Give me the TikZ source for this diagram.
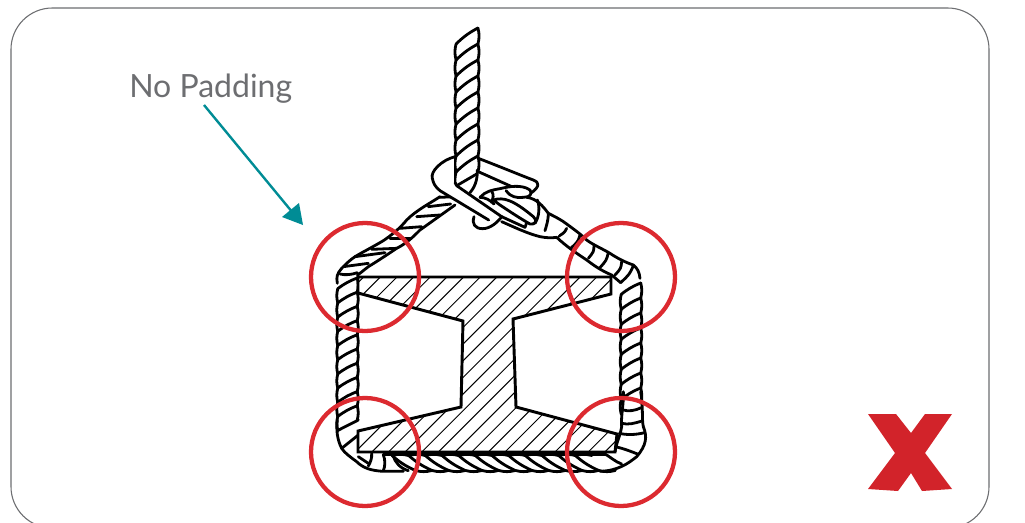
\documentclass[tikz,border=0pt]{standalone}
\usepackage{fontspec}
\setmainfont{Lato}
\usetikzlibrary{calc}
\definecolor{framegray}{HTML}{6D6E71}
\definecolor{labelgray}{HTML}{6D6E71}
\definecolor{tealarrow}{HTML}{008C95}
\definecolor{ringred}{HTML}{DC2A30}
\definecolor{crossred}{HTML}{D2232A}
\tikzset{
  rope/.style={draw=black,line width=2.1pt,line cap=round,line join=round},
  beamline/.style={draw=black,line width=2.2pt,line join=miter},
  hatchline/.style={draw=black,line width=0.75pt},
  ring/.style={draw=ringred,line width=3.2pt,circle,minimum size=81pt,inner sep=0pt},
  zoomA/.style={shift={(300,0)},x=0.25pt,y=-0.25pt},
  zoomB/.style={shift={(300,260)},x=0.25pt,y=-0.25pt},
}
\newcommand{\ropeRun}[7]{%
  \coordinate (RA) at (#1,#2);
  \coordinate (RB) at (#3,#4);
  \coordinate (RP) at ($(RA)!#5!90:(RB)$);
  \coordinate (RQ) at ($(RA)!#5!-90:(RB)$);
  \coordinate (RPe) at ($(RB)+(RP)-(RA)$);
  \coordinate (RQe) at ($(RB)+(RQ)-(RA)$);
  \pgfmathtruncatemacro\ropeLast{#6-1}%
  \foreach \i in {0,...,\ropeLast}{%
    \pgfmathsetmacro\tp{\i/#6}%
    \pgfmathsetmacro\tpn{(\i+1)/#6}%
    \pgfmathsetmacro\tq{(\i+#7)/#6}%
    \pgfmathsetmacro\tqn{(\i+1+#7)/#6}%
    \draw[rope] ($(RP)!\tp!(RPe)$) to[bend left=14] ($(RP)!\tpn!(RPe)$);
    \draw[rope] ($(RQ)!\tq!(RQe)$) to[bend right=14] ($(RQ)!\tqn!(RQe)$);
    \draw[rope] ($(RP)!\tp!(RPe)$) to[bend right=8] ($(RQ)!\tq!(RQe)$);
  }%
}
\begin{document}
\begin{tikzpicture}[x=0.75pt,y=-0.75pt]
\useasboundingbox (0,0) rectangle (1025,522);
\fill[white] (0,0) rectangle (1025,522);
\begin{scope}
  \clip (0,0) rectangle (1025,522);
  \draw[framegray,line width=0.8pt,rounded corners=31pt] (11,8) rectangle (989,528);
\end{scope}

% straight rope runs
\ropeRun{347.5}{278}{347.5}{420}{7.3pt}{10}{0.75}
\ropeRun{631}{283}{631}{403}{7.3pt}{8}{0.75}
\ropeRun{392}{463}{592}{463}{5.6pt}{12}{1.4}

% rope corners and bottom ends, traced
\begin{scope}[zoomB]
  \draw[rope] (112,70) .. controls (108,50) and (112,40) .. (125,25);
  \draw[rope] (120,42) .. controls (135,46) and (155,44) .. (172,38);
  % lower left
  \draw[rope] (112,480) .. controls (108,510) and (112,540) .. (125,565) .. controls (135,580) and (150,590) .. (170,605)
     .. controls (190,625) and (215,632) .. (250,634) -- (310,634);
  \draw[rope] (112,512) -- (175,480);
  \draw[rope] (125,565) -- (175,525);
  \draw[rope] (215,580) .. controls (216,595) and (212,605) .. (205,618);
  \draw[rope] (250,584) .. controls (256,600) and (256,618) .. (250,632);
  \draw[rope] (280,588) .. controls (284,605) and (300,625) .. (325,632);
  \draw[rope] (175,590) -- (205,610);
  \draw[rope] (250,584) -- (915,584);
  % lower right
  \draw[rope] (1022,395) .. controls (1030,440) and (1025,480) .. (1030,500)
     .. controls (1042,530) and (1040,555) .. (1010,590) .. controls (985,610) and (955,632) .. (900,634);
  \draw[rope] (970,395) .. controls (972,430) and (962,470) .. (965,500) .. controls (960,530) and (950,545) .. (945,575);
  \draw[rope] (970,450) .. controls (985,455) and (1005,452) .. (1024,443);
  \draw[rope] (965,490) .. controls (985,495) and (1005,490) .. (1028,482);
  \draw[rope] (958,520) .. controls (980,525) and (1005,525) .. (1034,518);
  \draw[rope] (945,560) .. controls (970,565) and (995,575) .. (1015,583);
  \draw[rope] (915,582) .. controls (930,590) and (945,605) .. (965,612);
\end{scope}

% beam
\coordinate (b1) at (358,277);
\coordinate (b2) at (611,277);
\coordinate (b3) at (611,294);
\coordinate (b4) at (513,319);
\coordinate (b5) at (516,407);
\coordinate (b6) at (617,434);
\coordinate (b7) at (615,452);
\coordinate (b8) at (358,452);
\coordinate (b9) at (358,431);
\coordinate (b10) at (461,407);
\coordinate (b11) at (463,321);
\coordinate (b12) at (358,293);
\fill[white] (b1)--(b2)--(b3)--(b4)--(b5)--(b6)--(b7)--(b8)--(b9)--(b10)--(b11)--(b12)--cycle;
\begin{scope}
  \clip (b1)--(b2)--(b3)--(b4)--(b5)--(b6)--(b7)--(b8)--(b9)--(b10)--(b11)--(b12)--cycle;
  \foreach \c in {0,...,28}{
    \draw[hatchline] ({624+\c*16.65-260},260) -- ++(-210,210);
  }
\end{scope}
\draw[beamline] (b1)--(b2)--(b3)--(b4)--(b5)--(b6)--(b7)--(b8)--(b9)--(b10)--(b11)--(b12)--cycle;

% knot and slanted ropes, traced
\begin{scope}[zoomA]
  % upper left rope
  \draw[rope] (420,590) .. controls (390,610) and (350,630) .. (320,660)
     .. controls (300,685) and (275,705) .. (250,722) .. controls (220,740) and (190,755) .. (165,770)
     .. controls (150,780) and (140,790) .. (125,805);
  \draw[rope] (465,615) .. controls (430,640) and (395,665) .. (360,690)
     .. controls (340,710) and (320,730) .. (290,745) .. controls (260,765) and (230,785) .. (205,800) -- (172,826);
  \foreach \ax/\ay/\bx/\by in {420/592/465/590,385/620/452/612,350/650/420/645,300/685/365/680,270/715/332/715,215/748/290/745,165/770/255/758,130/800/205/790}{
    \draw[rope] (\ax,\ay) -- (\bx,\by);
  }
  % upper right rope
  \draw[rope] (800,672) .. controls (825,690) and (845,705) .. (860,720)
     .. controls (880,735) and (905,745) .. (930,760) .. controls (960,780) and (985,790) .. (1000,795)
     .. controls (1012,805) and (1018,815) .. (1020,835);
  \draw[rope] (770,712) .. controls (800,740) and (830,760) .. (860,780)
     .. controls (880,795) and (900,810) .. (935,825) -- (962,848);
  \foreach \ax/\ay/\bx/\by in {800/685/770/712,840/705/812/745,882/735/865/775,925/757/898/805,965/785/945/825,1000/797/962/848}{
    \draw[rope] (\ax,\ay) .. controls ({(\ax+\bx)/2+8},{(\ay+\by)/2}) .. (\bx,\by);
  }
  % back strap
  \fill[white] (535,475) -- (700,540) -- (715,555) -- (695,578) -- (540,600) -- cycle;
  \draw[rope] (535,475) .. controls (600,500) and (660,525) .. (700,540)
     .. controls (720,548) and (718,560) .. (695,578);
  \draw[rope] (535,515) -- (640,562);
\end{scope}
% main rope runs over the back strap
\ropeRun{467}{28}{467}{172}{8.2pt}{9}{1}
\begin{scope}[zoomA]
  \draw[rope] (532,510) .. controls (532,530) and (530,555) .. (510,578);
  \draw[rope] (470,557) -- (530,522);
  % rope body leaving the knot
  \fill[white] (600,640) -- (680,590) -- (715,600) -- (745,640) -- (800,672) -- (770,712) -- (720,710) -- (605,665) -- cycle;
  \draw[rope] (680,592) .. controls (710,595) and (730,620) .. (745,640) .. controls (765,650) and (785,660) .. (800,672);
  \draw[rope] (605,665) .. controls (640,680) and (680,700) .. (720,710) .. controls (740,714) and (755,714) .. (770,712);
  \draw[rope] (712,600) .. controls (720,620) and (718,650) .. (705,670);
  \draw[rope] (745,640) .. controls (745,660) and (740,675) .. (735,692);
  % upper tucked strand
  \draw[rope,fill=white] (540,592) .. controls (555,575) and (575,570) .. (600,566)
     .. controls (625,560) and (665,552) .. (690,570) .. controls (698,582) and (690,592) .. (670,592)
     .. controls (650,595) and (630,590) .. (618,572);
  \draw[rope] (575,573) .. controls (582,585) and (580,595) .. (574,606);
  \draw[rope] (540,592) .. controls (555,592) and (570,600) .. (582,612);
  % lower tucked strand
  \draw[rope,fill=white] (580,600) .. controls (610,590) and (640,600) .. (700,650)
     .. controls (715,662) and (705,675) .. (690,672) .. controls (660,655) and (630,635) .. (600,615) -- cycle;
  \draw[rope] (605,650) -- (675,682) -- (680,668);
  % tab under the front strap
  \draw[rope,fill=white] (522,650) .. controls (515,672) and (525,686) .. (548,686)
     .. controls (570,686) and (592,668) .. (605,650);
  % front strap
  \fill[white] (465,470) .. controls (425,480) and (390,515) .. (397,535)
     .. controls (400,550) and (405,560) .. (420,572) -- (566,660) -- (605,650) -- (470,557) -- (465,550) -- cycle;
  \draw[rope] (465,470) .. controls (425,480) and (390,515) .. (397,535)
     .. controls (400,550) and (405,560) .. (420,572) -- (566,660);
  \draw[rope] (465,548) -- (470,557) -- (605,650);
  \draw[rope] (465,470) -- (465,548);
\end{scope}

% rings
\node[ring] (ringTL) at (365,277) {};
\node[ring] (ringTR) at (621,277) {};
\node[ring] (ringBL) at (365,452) {};
\node[ring] (ringBR) at (621,452) {};

% label and arrow
\node[anchor=base west,inner sep=0pt,text=labelgray,font=\fontsize{24pt}{28pt}\selectfont] (label) at (129,97) {No Padding};
\coordinate (arrowStart) at (204,105);
\coordinate (arrowEnd) at (293,213);
\draw[tealarrow,line width=1.8pt] (arrowStart) -- (arrowEnd);
\fill[tealarrow] (303,225) -- (282,217) -- (299,203) -- cycle;

% cross
\fill[crossred] (868,414) -- (896,414) -- (911,433) -- (925,414) -- (952,414) -- (925,453)
  -- (952,489) -- (922,491) -- (911,473) -- (898,491) -- (868,489) -- (895,453) -- cycle;
\end{tikzpicture}
\end{document}
